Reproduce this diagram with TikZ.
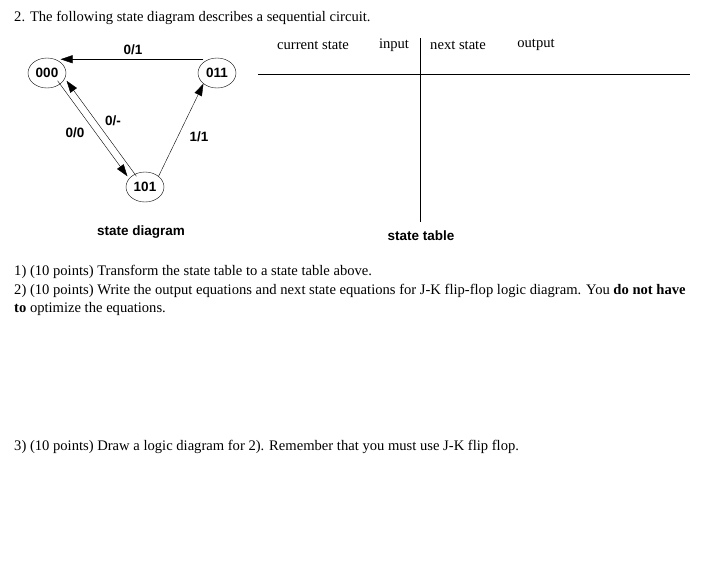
\documentclass[tikz,border=0pt]{standalone}
\usepackage{fontspec}
\setmainfont{Liberation Serif}
\setsansfont{Liberation Sans}
\usetikzlibrary{arrows.meta,shapes.geometric}
\begin{document}
\begin{tikzpicture}[x=1pt,y=-1pt,
  st/.style={draw,ellipse,minimum width=38pt,minimum height=30pt,inner sep=0pt,font=\sffamily\bfseries\fontsize{13.5}{15}\selectfont},
  lbl/.style={font=\sffamily\bfseries\fontsize{13.5}{15}\selectfont},
  hd/.style={font=\fontsize{14.6}{17}\selectfont},
  txt/.style={anchor=west,inner sep=0pt,font=\fontsize{14.6}{17}\selectfont},
  arr/.style={-{Triangle[length=12pt,width=8pt]},thin}]
\useasboundingbox (0,0) rectangle (714,571);
\node[txt] (h) at (14,18) {2. The following state diagram describes a sequential circuit.};
\node[st] (a) at (47,73) {000};
\node[st] (b) at (217,73) {011};
\node[st] (c) at (145,187) {101};
\draw[arr] ([yshift=3pt]b.north west) -- ([yshift=3pt]a.north east);
\draw[arr] ([xshift=-3pt,yshift=3pt]a.south east) -- ([xshift=-4pt]c.north west);
\draw[arr] ([xshift=5pt]c.north west) -- ([xshift=6pt,yshift=3pt]a.south east);
\draw[arr] (c.north east) -- (b.south west);
\node[lbl] (l1) at (133,50) {0/1};
\node[lbl] (l2) at (75,133) {0/0};
\node[lbl] (l3) at (113,121) {0/-};
\node[lbl] (l4) at (199,137) {1/1};
\node[lbl] (sd) at (141,232) {state diagram};
\node[lbl] (stt) at (421,236) {state table};
\node[hd] (c1) at (313,45) {current state};
\node[hd] (c2) at (394,45) {input};
\node[hd] (c3) at (458,45) {next state};
\node[hd] (c4) at (536,45) {output};
\coordinate (t1) at (258,74); \coordinate (t2) at (690,74);
\coordinate (v1) at (420,38); \coordinate (v2) at (420,222);
\draw (t1) -- (t2); \draw (v1) -- (v2);
\node[txt] (q1) at (14,272) {1) (10 points) Transform the state table to a state table above.};
\node[txt] (q2) at (14,291) {2) (10 points) Write the output equations and next state equations for J-K flip-flop logic diagram. You \textbf{do not have}};
\node[txt] (q2b) at (14,309) {\textbf{to} optimize the equations.};
\node[txt] (q3) at (14,447) {3) (10 points) Draw a logic diagram for 2). Remember that you must use J-K flip flop.};
\end{tikzpicture}
\end{document}
